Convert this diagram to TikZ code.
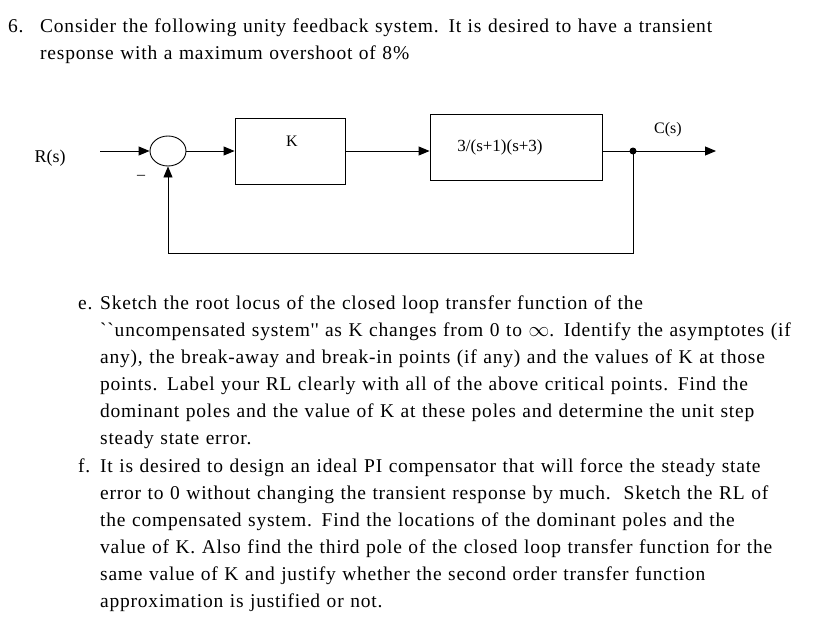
\documentclass[tikz,border=0pt]{standalone}
\usepackage{fontspec}
\setmainfont{Liberation Serif}
\newfontfamily\paraf[LetterSpace=4]{Liberation Serif}
\newcommand{\pfont}{\paraf\fontsize{19.5}{27}\selectfont}
\hyphenpenalty=10000
\exhyphenpenalty=10000
\usetikzlibrary{arrows.meta,shapes.geometric}
\begin{document}
\begin{tikzpicture}[x=1pt,y=-1pt,
  blk/.style={draw,line width=0.9pt,minimum width=#1,minimum height=66pt,inner sep=0pt},
  arr/.style={-{Triangle[length=11pt,width=9pt]},line width=0.9pt},
  ln/.style={line width=0.9pt},
  ptxt/.style={font=\pfont},
  para/.style={anchor=north west,inner sep=0pt,text width=690pt,ptxt},
  lbl/.style={font=\fontsize{16}{18}\selectfont}]
\useasboundingbox (0,0) rectangle (818,629);
\node[anchor=base west,inner sep=0pt,ptxt] (n6) at (8,32) {6.};
\node[para,text width=752pt,anchor=base west] (q) at (40,32) {Consider the following unity feedback system. It is desired to have a transient\linebreak response with a maximum overshoot of 8\%};
\node[lbl,font=\fontsize{18}{20}\selectfont] (R) at (50,158) {R(s)};
\coordinate (in) at (100,151);
\node[draw,ellipse,ln,minimum width=36pt,minimum height=30pt,inner sep=0pt] (sum) at (168,151) {};
\node[lbl] (minus) at (141,177) {--};
\node[blk=110pt] (K) at (290,151) {};
\node[lbl] at (292,141) {K};
\node[blk=172pt] (G) at (516,147) {};
\node[lbl,font=\fontsize{17}{20}\selectfont] at (500,147) {3/(s+1)(s+3)};
\fill (633,151) circle (3.5pt) coordinate (dot);
\coordinate (out) at (716,151);
\node[lbl] (C) at (668,130) {C(s)};
\draw[arr] (in) -- (sum.west);
\draw[arr] (sum.east) -- (K.west);
\draw[arr] (K.east) -- (K.east -| G.west);
\draw[ln] (K.east -| G.east) -- (dot);
\draw[arr] (dot) -- (out);
\coordinate (b1) at (633,253);
\coordinate (b2) at (168,253);
\draw[arr] (dot) -- (b1) -- (b2) -- (sum.south);
\node[anchor=base west,inner sep=0pt,ptxt] (le) at (78,309) {e.};
\node[para,anchor=base west] (pe) at (100,309) {Sketch the root locus of the closed loop transfer function of the\linebreak ``uncompensated system'' as K changes from 0 to $\infty$. Identify the asymptotes (if\linebreak any), the break-away and break-in points (if any) and the values of K at those\linebreak points. Label your RL clearly with all of the above critical points. Find the\linebreak dominant poles and the value of K at these poles and determine the unit step\linebreak steady state error.};
\node[anchor=base west,inner sep=0pt,ptxt] (lf) at (78,472) {f.};
\node[para,anchor=base west] (pf) at (100,472) {It is desired to design an ideal PI compensator that will force the steady state\linebreak error to 0 without changing the transient response by much.\ \ Sketch the RL of\linebreak the compensated system. Find the locations of the dominant poles and the\linebreak value of K. Also find the third pole of the closed loop transfer function for the\linebreak same value of K and justify whether the second order transfer function\linebreak approximation is justified or not.};
\end{tikzpicture}
\end{document}
